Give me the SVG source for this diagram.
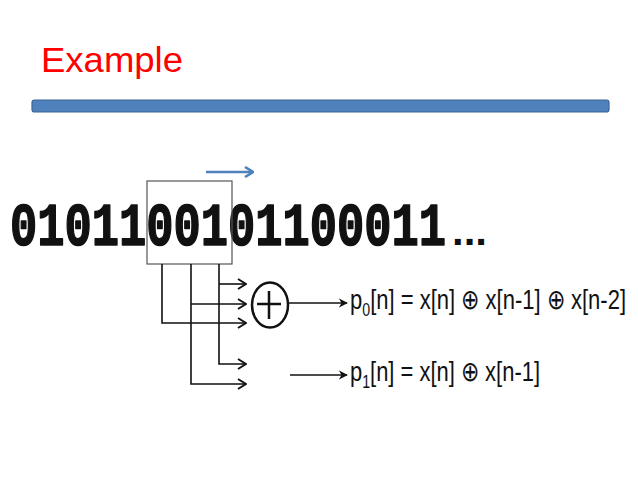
<svg xmlns="http://www.w3.org/2000/svg" width="638" height="478" viewBox="0 0 638 478">
<defs>
<style>
.ln{fill:none;stroke:#111;stroke-width:1.6}
.eq{font-family:"Liberation Sans","Open Sans",sans-serif;font-size:28px;fill:#111}
.sub{font-size:18px}
</style>
<marker id="chev" viewBox="0 0 10 12" refX="9" refY="6" markerWidth="10" markerHeight="12" markerUnits="userSpaceOnUse" orient="auto">
<path d="M1,1 L9,6 L1,11" fill="none" stroke="#111" stroke-width="2"/>
</marker>
<marker id="tri" viewBox="0 0 10 10" refX="9" refY="5" markerWidth="9" markerHeight="10" markerUnits="userSpaceOnUse" orient="auto">
<path d="M0,0 L10,5 L0,10 L3,5 Z" fill="#111"/>
</marker>
<marker id="bchev" viewBox="0 0 10 12" refX="9" refY="6" markerWidth="10" markerHeight="12" markerUnits="userSpaceOnUse" orient="auto">
<path d="M1,1 L9,6 L1,11" fill="none" stroke="#4f81bd" stroke-width="2.6"/>
</marker>
</defs>
<rect width="638" height="478" fill="#fff"/>
<g id="title">
<text x="41" y="72" font-family="Liberation Sans, Open Sans, sans-serif" font-size="35" fill="#ff0000" textLength="142" lengthAdjust="spacingAndGlyphs">Example</text>
<rect x="32" y="100" width="577" height="12" rx="2.5" fill="#4f81bd" stroke="#3a6494" stroke-width="1.2"/>
</g>
<g id="bits">
<text x="10" y="245" font-family="Liberation Mono, DejaVu Sans Mono, monospace" font-weight="bold" font-size="62" fill="#111" stroke="#111" stroke-width="1.6" stroke-linejoin="round" textLength="436" lengthAdjust="spacingAndGlyphs">0101100101100011</text>
<text x="452" y="245" font-family="Liberation Sans, sans-serif" font-weight="bold" font-size="40" fill="#111" textLength="35" lengthAdjust="spacingAndGlyphs">...</text>
</g>
<g id="window">
<rect x="147" y="181" width="85" height="83" fill="none" stroke="#555" stroke-width="1.2"/>
</g>
<g id="xor">
<ellipse cx="270" cy="305" rx="18" ry="22.5" fill="#fff" stroke="#111" stroke-width="2.5"/>
<path d="M257,304 H281 M269,291 V319" stroke="#111" stroke-width="2.5" fill="none"/>
</g>
<g id="p0">
<text class="eq" x="350" y="309" textLength="276" lengthAdjust="spacingAndGlyphs">p<tspan class="sub" dy="7">0</tspan><tspan dy="-7">[n] = x[n] ⊕ x[n-1] ⊕ x[n-2]</tspan></text>
</g>
<g id="p1">
<text class="eq" x="350" y="381" textLength="190" lengthAdjust="spacingAndGlyphs">p<tspan class="sub" dy="7">1</tspan><tspan dy="-7">[n] = x[n] ⊕ x[n-1]</tspan></text>
</g>
<g id="connectors">
<path d="M206,172 H253" fill="none" stroke="#4f81bd" stroke-width="2.6" marker-end="url(#bchev)"/>
<path class="ln" d="M219,264 V364 H246" marker-end="url(#chev)"/>
<path class="ln" d="M219,284 H246" marker-end="url(#chev)"/>
<path class="ln" d="M191,264 V384 H246" marker-end="url(#chev)"/>
<path class="ln" d="M191,304 H246" marker-end="url(#chev)"/>
<path class="ln" d="M162,264 V323 H246" marker-end="url(#chev)"/>
<path class="ln" d="M289,303 H347" marker-end="url(#tri)"/>
<path class="ln" d="M290,375 H347" marker-end="url(#tri)"/>
</g>
</svg>
